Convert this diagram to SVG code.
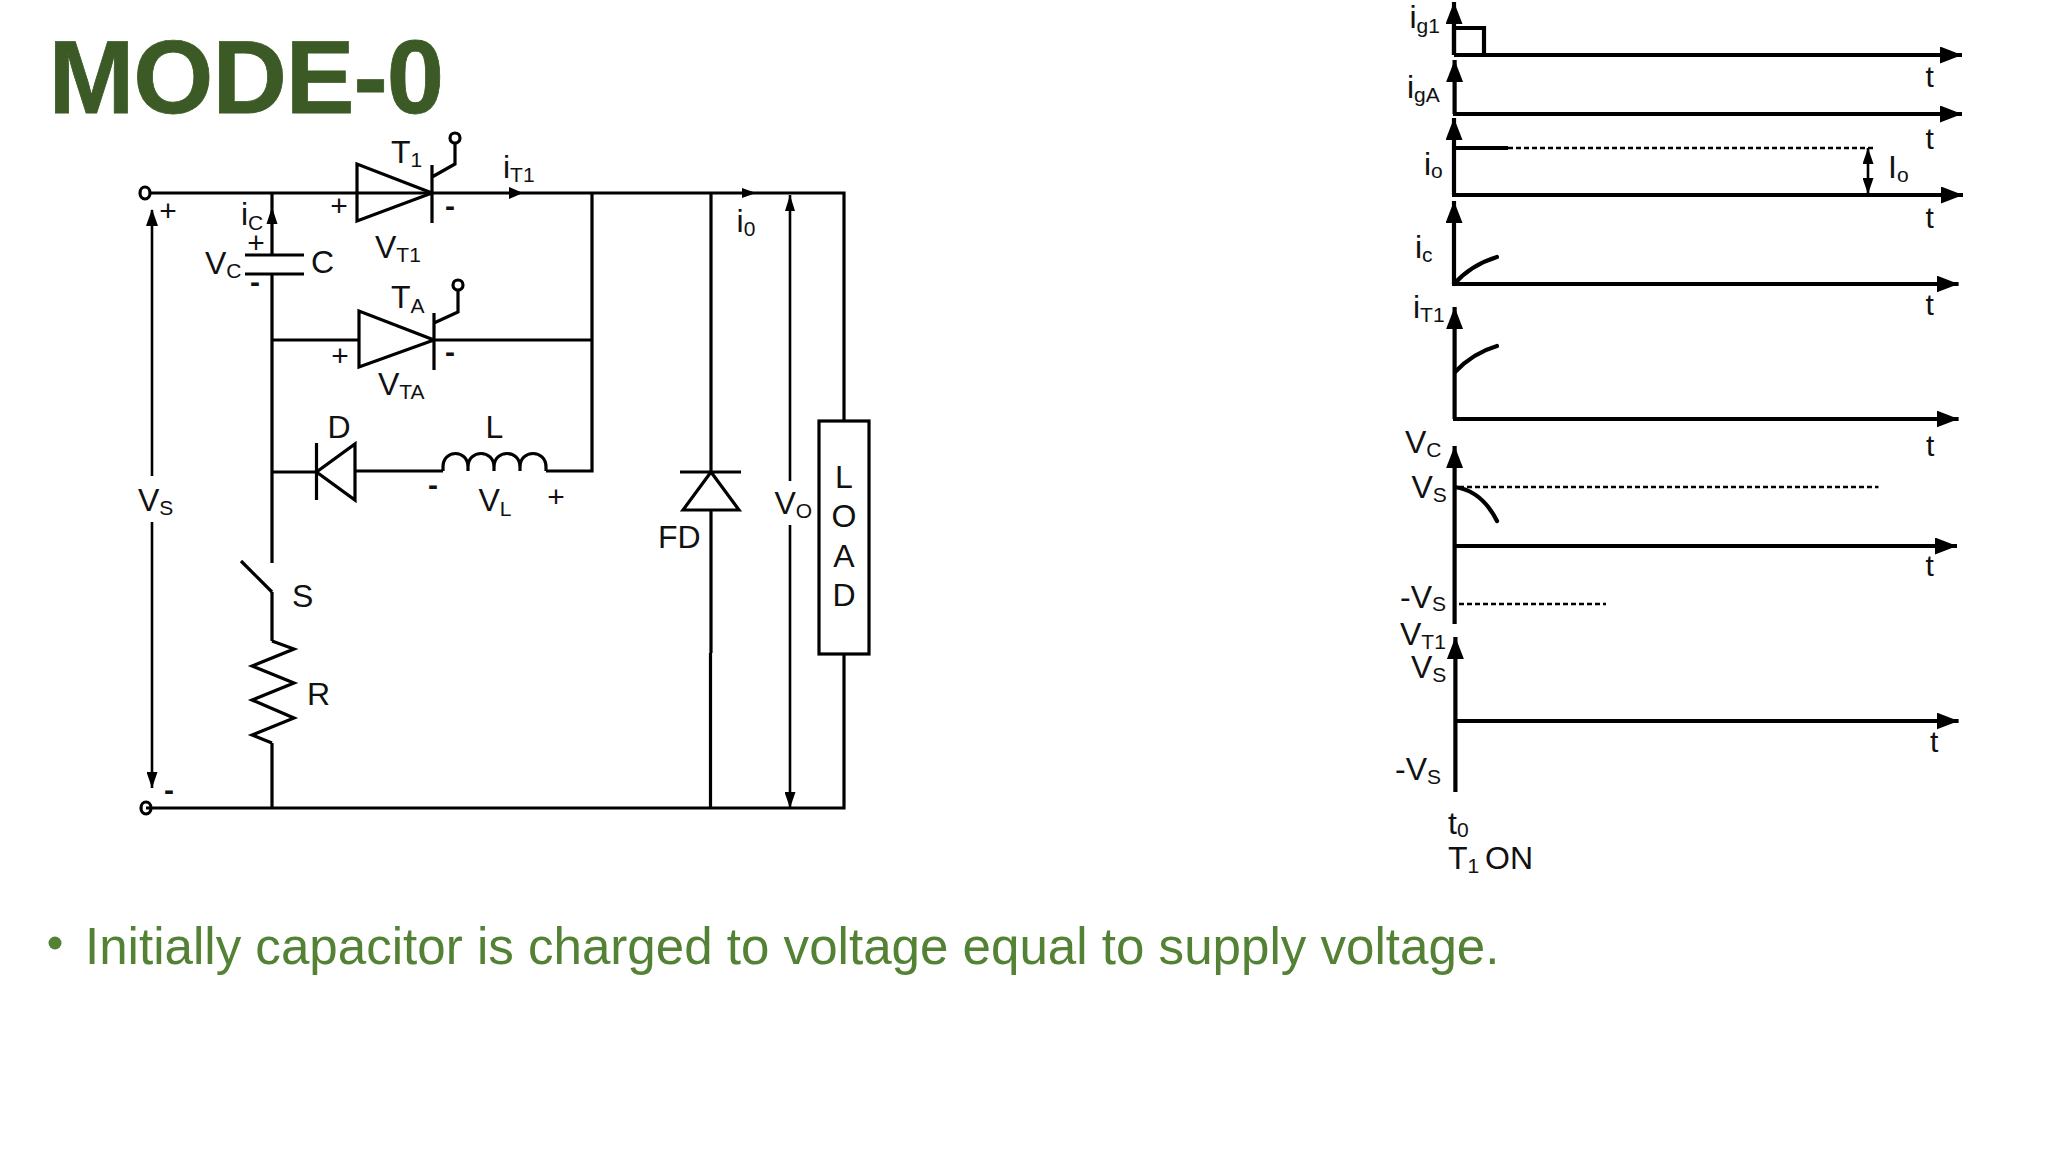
<svg xmlns="http://www.w3.org/2000/svg" width="2048" height="1152" viewBox="0 0 2048 1152">
<style>
text{font-family:"Liberation Sans",Arial,sans-serif;font-size:32px;fill:#111}
.s{font-size:21px}
.pm{font-size:30px;text-anchor:middle}
.h{font-size:30px;font-weight:bold;text-anchor:middle}
.c{text-anchor:middle}
.w{fill:none;stroke:#000;stroke-width:3.2}
.thin{fill:none;stroke:#000;stroke-width:2.6}
.ax{fill:none;stroke:#000;stroke-width:4.2}
.d{fill:none;stroke:#000;stroke-width:2.4;stroke-dasharray:5 3}
.t{font-size:30px}
</style>
<defs>
<marker id="ah" markerUnits="userSpaceOnUse" markerWidth="22" markerHeight="17" refX="22" refY="8.5" orient="auto"><path d="M0,0L22,8.5L0,17Z" fill="#000"/></marker>
<marker id="ahs" markerUnits="userSpaceOnUse" markerWidth="16" markerHeight="11" refX="16" refY="5.5" orient="auto-start-reverse"><path d="M0,0L16,5.5L0,11Z" fill="#000"/></marker>
</defs>
<rect width="2048" height="1152" fill="#fff"/>
<text id="title" x="48.5" y="113" style="font-size:103px;font-weight:bold;fill:#3b5a25;stroke:#3b5a25;stroke-width:0.8px;letter-spacing:-1px">MODE-0</text>

<g id="connectors">
<path class="w" d="M151,193H844V421M844,654V808H146"/>
<path class="w" d="M272,193V255M272,274V563M272,592V641M272,743V808"/>
<path class="w" d="M272,340H359M434,340H592M592,193V471H546M443,471H355M316,472H272"/>
<path class="w" d="M711,193V472M711,510V653M710.5,653V808"/>
<path class="thin" d="M152,210V476M152,522V788" marker-end="url(#ahs)"/>
<path class="thin" d="M790,195V481M790,525V808" marker-end="url(#ahs)"/>
<path d="M152,209l-6,17h12ZM272,207l-5.5,17h11Z" fill="#000"/>
<path d="M790,195l-5,16h10Z" fill="#000"/>
<path d="M509,187l14,6l-14,6ZM742,188l14,5l-14,5Z" fill="#000"/>
</g>

<g id="terminal-top"><ellipse class="w" cx="145" cy="193" rx="5" ry="6" fill="#fff"/><text class="pm" x="168" y="221">+</text></g>
<g id="terminal-bottom"><ellipse class="w" cx="146" cy="808" rx="5" ry="6" fill="#fff"/><text class="h" x="169" y="800">-</text></g>
<g id="vs"><text x="138" y="511">V<tspan class="s" dy="4">S</tspan></text></g>
<g id="capacitor"><path class="w" d="M245,255H304M245,274H304"/><text x="241" y="225">i<tspan class="s" dy="5">C</tspan></text><text class="pm" x="256" y="253">+</text><text class="h" x="255" y="292">-</text><text x="205" y="274">V<tspan class="s" dy="4">C</tspan></text><text x="311" y="273">C</text></g>
<g id="t1"><path class="w" d="M357,164V221L432,193ZM432,165V223M432,177L455,164V143"/><circle class="w" cx="455" cy="138" r="5" fill="#fff"/><text x="391" y="163">T<tspan class="s" dy="4">1</tspan></text><text class="pm" x="339" y="216">+</text><text class="h" x="450" y="216">-</text><text x="375" y="258">V<tspan class="s" dy="4">T1</tspan></text><text x="503" y="178">i<tspan class="s" dy="4">T1</tspan></text></g>
<g id="ta"><path class="w" d="M359,311V367L434,340ZM434,313V370M434,323L458,312V290"/><circle class="w" cx="458" cy="285" r="5" fill="#fff"/><text x="391" y="308">T<tspan class="s" dy="5">A</tspan></text><text class="pm" x="340" y="366">+</text><text class="h" x="450" y="362">-</text><text x="378" y="395">V<tspan class="s" dy="4">TA</tspan></text></g>
<g id="d"><path class="w" d="M316.5,443V500M355,444V500L316.5,472Z"/><text x="327.5" y="438">D</text></g>
<g id="l"><path class="w" d="M443,471v-4c0-18,25-18,25,0v4v-4c0-18,26-18,26,0v4v-4c0-18,26-18,26,0v4v-4c0-18,26-18,26,0v4"/><text x="485.5" y="438">L</text><text class="h" x="433" y="495">-</text><text class="pm" x="556" y="507">+</text><text x="478.5" y="511">V<tspan class="s" dy="5">L</tspan></text></g>
<g id="s"><path class="w" d="M241,561L272,592"/><text x="292" y="607">S</text></g>
<g id="r"><path class="w" d="M272,641L294,649L252,666L294,683L252,700L294,718L252,735L272,743"/><text x="307" y="705">R</text></g>
<g id="fd"><path class="w" d="M680,472H741M711,472L683,510H739Z"/><text x="658" y="548">FD</text></g>
<g id="vo"><text x="774.5" y="514">V<tspan class="s" dy="4">O</tspan></text><text x="736.6" y="232">i<tspan class="s" dy="4">0</tspan></text></g>
<g id="load"><rect class="w" x="819" y="421" width="50" height="233"/><text class="c" x="844" y="488">L</text><text class="c" x="844" y="527">O</text><text class="c" x="844" y="567">A</text><text class="c" x="844" y="606">D</text></g>

<g id="wave-ig1"><path class="ax" d="M1454,55V2" marker-end="url(#ah)"/><path class="ax" d="M1454,55V28H1484V55M1454,55H1962" marker-end="url(#ah)"/><text x="1409.5" y="28">i<tspan class="s" dy="5">g1</tspan></text><text class="t" x="1925.4" y="87">t</text></g>
<g id="wave-iga"><path class="ax" d="M1454.6,114V60" marker-end="url(#ah)"/><path class="ax" d="M1453,114H1962" marker-end="url(#ah)"/><text x="1407" y="98">i<tspan class="s" dy="4">gA</tspan></text><text class="t" x="1925.4" y="149">t</text></g>
<g id="wave-io"><path class="ax" d="M1454,195V118" marker-end="url(#ah)"/><path class="ax" d="M1452,195H1963" marker-end="url(#ah)"/><path class="ax" d="M1454,148H1508"/><path class="d" d="M1508,148H1876"/><path class="thin" d="M1868,148V194" marker-start="url(#ahs)" marker-end="url(#ahs)"/><text x="1424" y="175">i<tspan class="s" dy="3">o</tspan></text><text x="1888" y="178">I<tspan class="s" dy="4">o</tspan></text><text class="t" x="1925.4" y="228">t</text></g>
<g id="wave-ic"><path class="ax" d="M1454,284V201" marker-end="url(#ah)"/><path class="ax" d="M1452,284H1958.6" marker-end="url(#ah)"/><path class="ax" d="M1454,284Q1471,265 1497,257" stroke-linecap="round"/><text x="1415" y="258">i<tspan class="s" dy="4">c</tspan></text><text class="t" x="1925.4" y="315">t</text></g>
<g id="wave-it1"><path class="ax" d="M1454.6,419V307" marker-end="url(#ah)"/><path class="ax" d="M1453,419H1958.6" marker-end="url(#ah)"/><path class="ax" d="M1455,372Q1473,353 1497,346" stroke-linecap="round"/><text x="1413" y="318">i<tspan class="s" dy="4">T1</tspan></text><text class="t" x="1926" y="456">t</text></g>
<g id="wave-vc"><path class="ax" d="M1454.6,624V446" marker-end="url(#ah)"/><path class="ax" d="M1453,546H1957" marker-end="url(#ah)"/><path class="d" d="M1459,487H1878.5M1459,604H1606"/><path class="ax" d="M1455,487Q1482,491 1497,521" stroke-linecap="round"/><text x="1405" y="453">V<tspan class="s" dy="4">C</tspan></text><text x="1411.5" y="498">V<tspan class="s" dy="4">S</tspan></text><text x="1400" y="608">-V<tspan class="s" dy="3">S</tspan></text><text class="t" x="1925.4" y="576">t</text></g>
<g id="wave-vt1"><path class="ax" d="M1455.4,792V637" marker-end="url(#ah)"/><path class="ax" d="M1454,721H1958.6" marker-end="url(#ah)"/><text x="1400" y="645">V<tspan class="s" dy="4">T1</tspan></text><text x="1411" y="678">V<tspan class="s" dy="4">S</tspan></text><text x="1395" y="780">-V<tspan class="s" dy="4">S</tspan></text><text class="t" x="1930" y="752">t</text></g>
<g id="time-labels"><text x="1448" y="834">t<tspan class="s" dy="3">0</tspan></text><text x="1448" y="869">T<tspan class="s" dy="4">1</tspan></text><text x="1485" y="869">ON</text></g>

<g id="bullet"><circle cx="55" cy="943" r="6.5" fill="#548235"/><text x="85" y="964" style="font-size:51.1px;fill:#548235">Initially capacitor is charged to voltage equal to supply voltage.</text></g>
</svg>
